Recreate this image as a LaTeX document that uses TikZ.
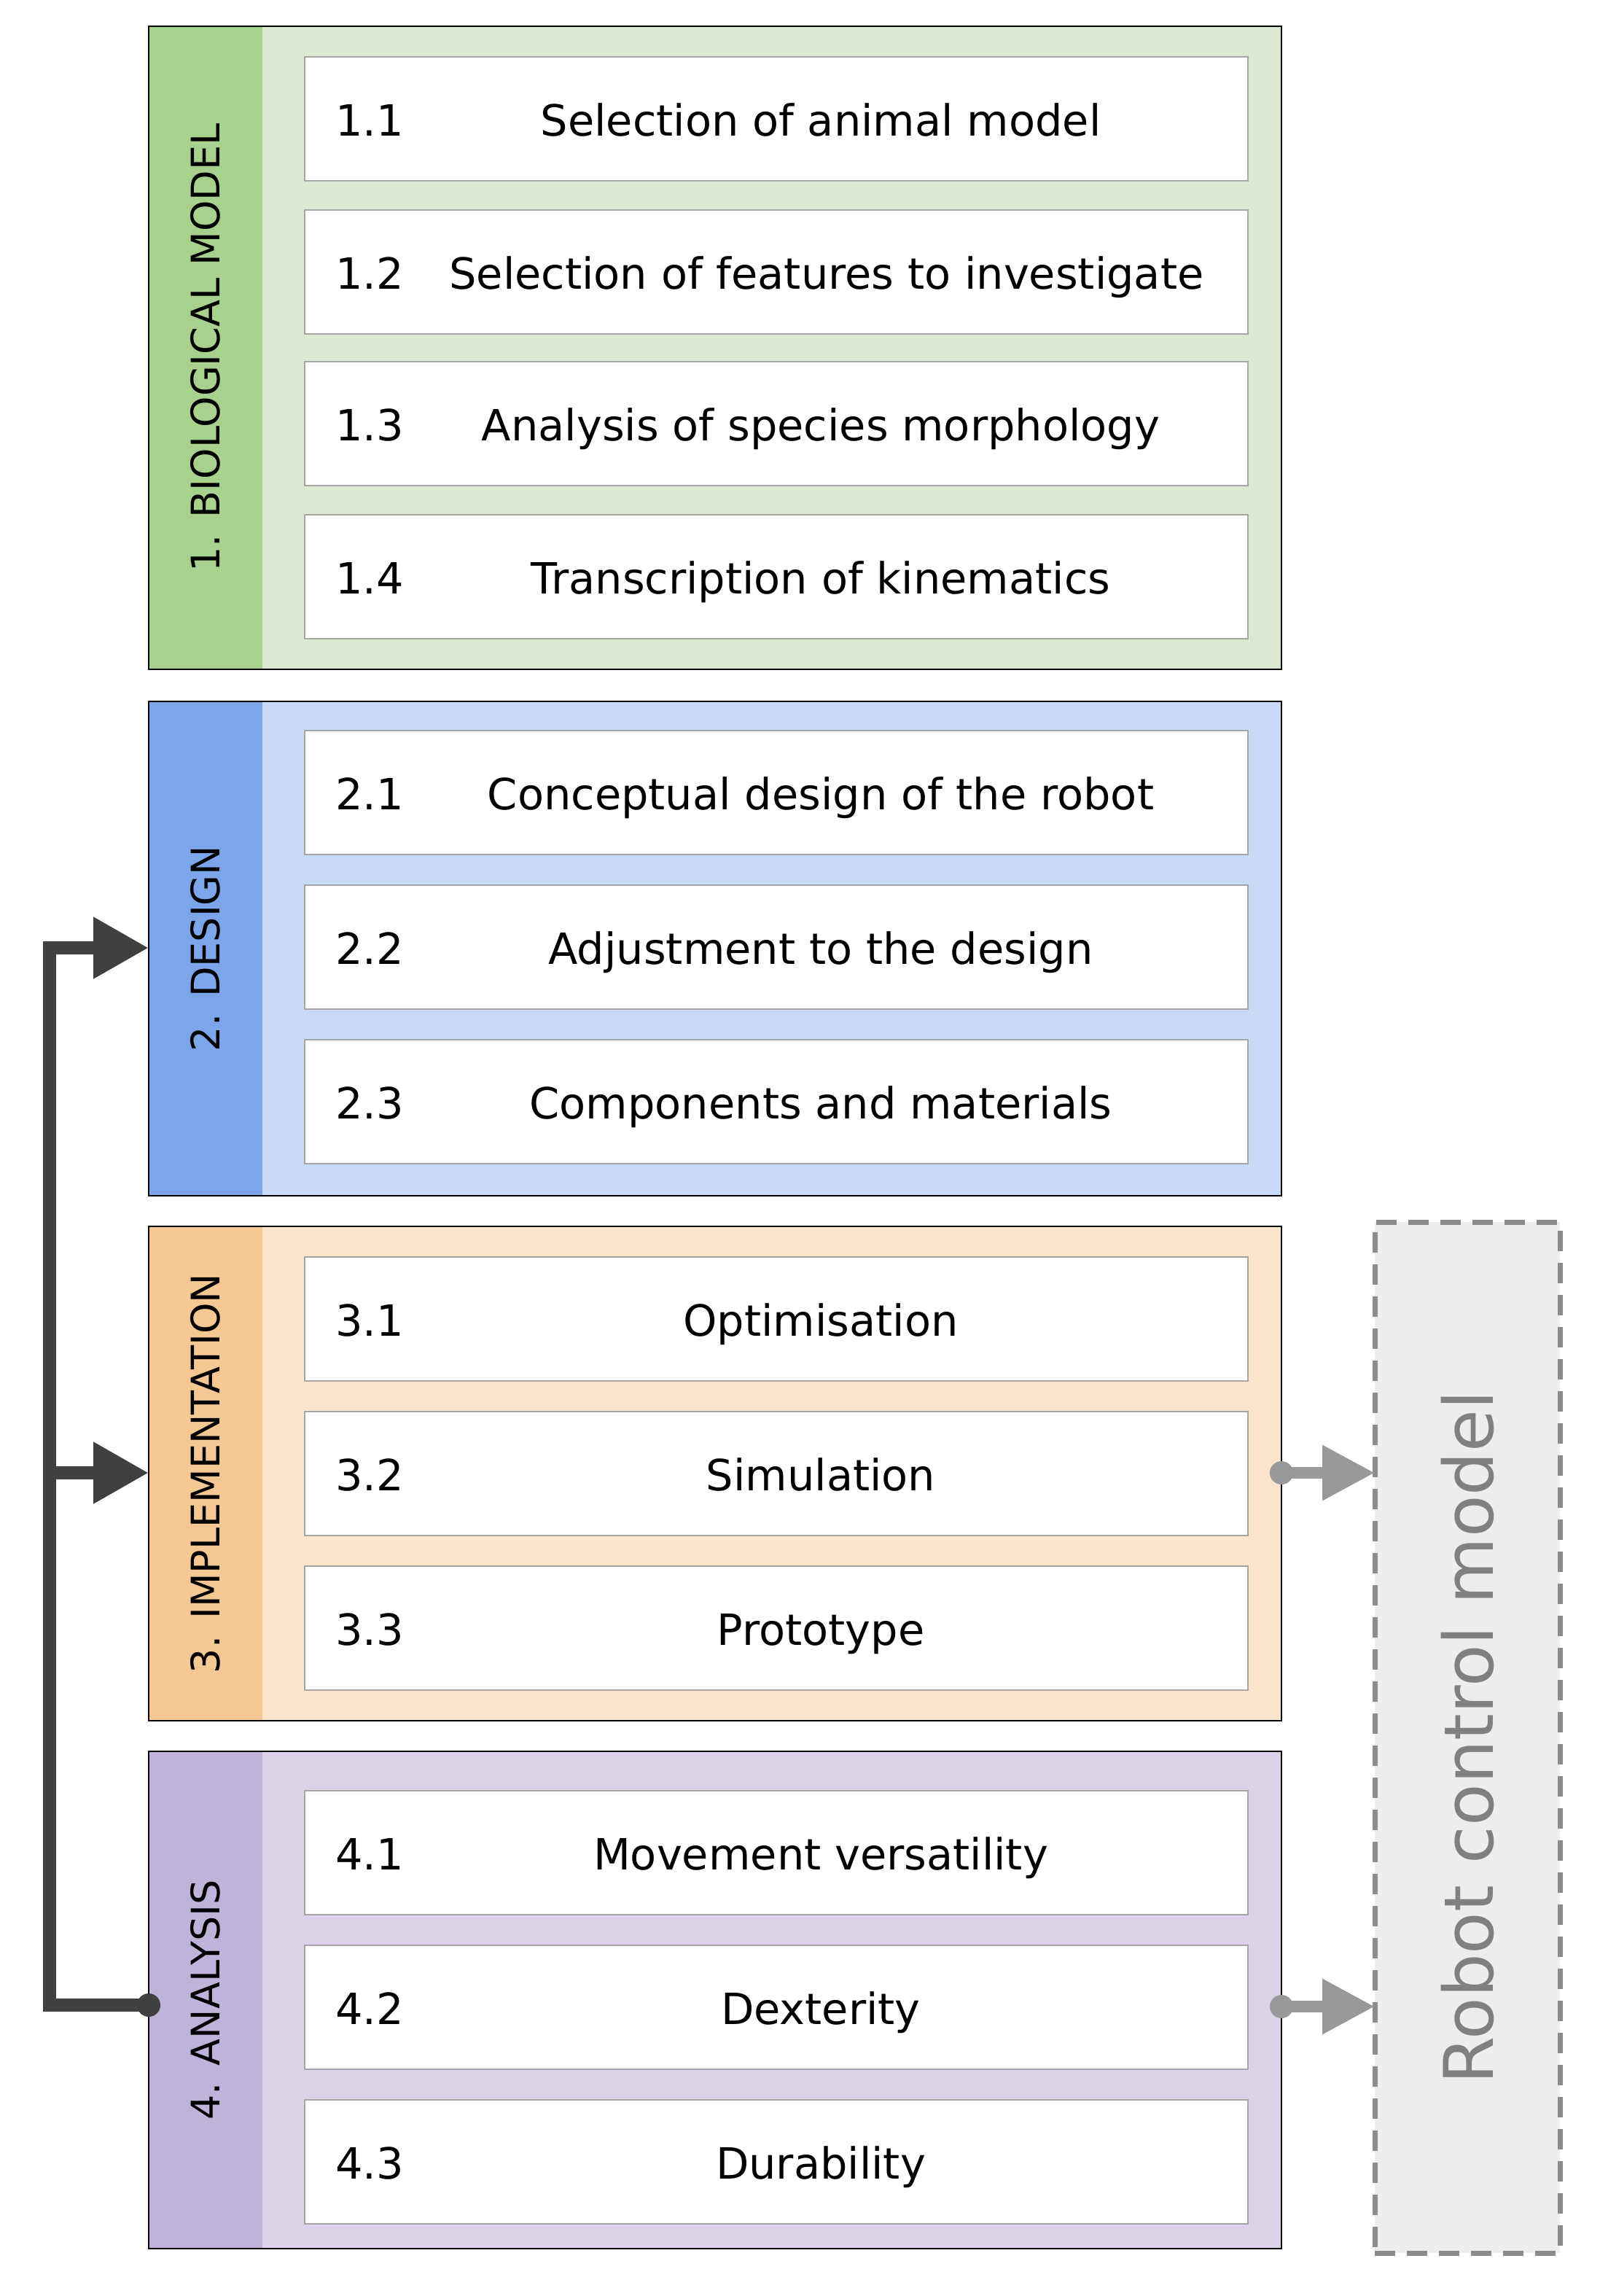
\documentclass[tikz,border=0pt]{standalone}
\usepackage{fontspec}
\setmainfont{DejaVu Sans}
\usetikzlibrary{arrows.meta}
\definecolor{gS}{HTML}{A9D18E}\definecolor{gB}{HTML}{DBE9D3}
\definecolor{bS}{HTML}{7DA6EA}\definecolor{bB}{HTML}{C9DAF7}
\definecolor{oS}{HTML}{F5C793}\definecolor{oB}{HTML}{FBE4CB}
\definecolor{pS}{HTML}{BFB3D9}\definecolor{pB}{HTML}{DCD3EA}
\definecolor{dk}{HTML}{404040}\definecolor{lg}{HTML}{999999}
\begin{document}
\begin{tikzpicture}[x=1pt,y=-1pt,
  grp/.style={draw=black,line width=0.8pt},
  item/.style={draw=gray!70,line width=0.6pt,fill=white},
  txt/.style={font=\fontsize{29.5}{34}\selectfont,anchor=base},
  side/.style={font=\fontsize{27}{31}\selectfont,rotate=90},
  dkarrow/.style={draw=dk,line width=9pt,-{Triangle[length=38pt,width=40pt]}},
  ltarrow/.style={draw=lg,line width=8pt,-{Triangle[length=36pt,width=36pt]}}]
\useasboundingbox (0,0) rectangle (1097.5,1574.5);
\newcommand{\grp}[6]{% y1 y2 side body label name
  \fill[#4] (102,#1) rectangle (879,#2);
  \fill[#3] (102,#1) rectangle (180,#2);
  \draw[grp] (102,#1) rectangle (879,#2);
  \node[side] (#6) at (141,{(#1+#2)/2}) {#5};}
\newcommand{\itm}[4]{% y1 num text name
  \draw[item] (209,#1) rectangle (856,#1+85);
  \node[txt,anchor=base west,inner sep=0] (#4n) at (230,#1+54) {#2};
  \node[txt,inner sep=0] (#4) at (563,#1+54) {#3};}
\grp{18}{459}{gS}{gB}{1. BIOLOGICAL MODEL}{g1}
\itm{39}{1.1}{Selection of animal model}{a1}
\itm{144}{1.2}{\hspace*{8pt}Selection of features to investigate}{a2}
\itm{248}{1.3}{Analysis of species morphology}{a3}
\itm{353}{1.4}{Transcription of kinematics}{a4}
\grp{481}{820}{bS}{bB}{2. DESIGN}{g2}
\itm{501}{2.1}{Conceptual design of the robot}{b1}
\itm{607}{2.2}{Adjustment to the design}{b2}
\itm{713}{2.3}{Components and materials}{b3}
\grp{841}{1180}{oS}{oB}{3. IMPLEMENTATION}{g3}
\itm{862}{3.1}{Optimisation}{c1}
\itm{968}{3.2}{Simulation}{c2}
\itm{1074}{3.3}{Prototype}{c3}
\grp{1201}{1542}{pS}{pB}{4. ANALYSIS}{g4}
\itm{1228}{4.1}{Movement versatility}{d1}
\itm{1334}{4.2}{Dexterity}{d2}
\itm{1440}{4.3}{Durability}{d3}
\node[draw=gray!90,fill=gray!14,dashed,dash pattern=on 14pt off 8pt,line width=3.5pt,minimum width=127pt,minimum height=707pt,inner sep=0] (rc) at (1006.5,1191.5) {};
\node[rotate=90,text=gray,font=\fontsize{47}{53}\selectfont] at (rc) {Robot control model};
\coordinate (s) at (102,1375);
\coordinate (d2) at (102,650);
\coordinate (i2) at (102,1010);
\fill[dk] (s) circle (8pt);
\draw[dkarrow] (s) -- (34,1375) -- (34,650) -- (d2);
\draw[dkarrow] (34,1010) -- (i2);
\coordinate (r1) at (879,1010);\coordinate (r2) at (879,1376);
\coordinate (t1) at (943,1010);\coordinate (t2) at (943,1376);
\fill[lg] (r1) circle (8pt);\fill[lg] (r2) circle (8pt);
\draw[ltarrow] (r1) -- (t1);
\draw[ltarrow] (r2) -- (t2);
\end{tikzpicture}
\end{document}
